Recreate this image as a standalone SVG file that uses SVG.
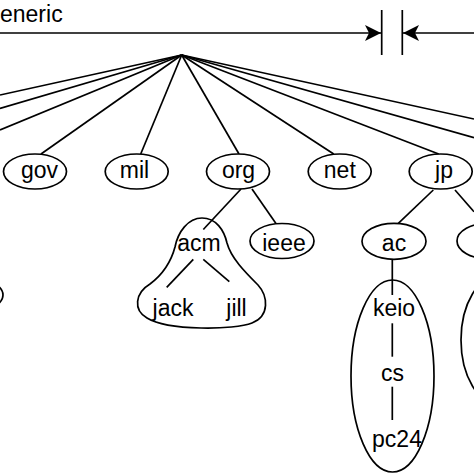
<svg xmlns="http://www.w3.org/2000/svg" width="474" height="474" viewBox="0 0 474 474">
<style>
.n{fill:none;stroke:#000;stroke-width:1.7}
.e{fill:#fff;stroke:#000;stroke-width:1.7}
.c line{stroke:#000;stroke-width:1.7}
text{font-family:"Liberation Sans",Arial,sans-serif;font-size:23px;fill:#000;text-anchor:middle}
</style>
<defs>
<marker id="ah" viewBox="0 0 16 16" refX="16" refY="8" markerWidth="16" markerHeight="16" markerUnits="userSpaceOnUse" orient="auto">
<path d="M0,0 L16,8 L0,16 L4,8 Z" fill="#000"/>
</marker>
</defs>
<rect width="474" height="474" fill="#fff"/>
<g id="scope">
<text x="0" y="22" style="text-anchor:start">eneric</text>
<line x1="0" y1="33" x2="381" y2="33" stroke="#000" stroke-width="1.7" marker-end="url(#ah)"/>
<line x1="474" y1="33" x2="403" y2="33" stroke="#000" stroke-width="1.7" marker-end="url(#ah)"/>
<line x1="381.7" y1="10" x2="381.7" y2="55" stroke="#000" stroke-width="1.7"/>
<line x1="402.3" y1="10" x2="402.3" y2="55" stroke="#000" stroke-width="1.7"/>
</g>
<g id="connectors" class="c">
<line x1="181.7" y1="55" x2="0" y2="95"/>
<line x1="181.7" y1="55" x2="0" y2="108.5"/>
<line x1="181.7" y1="55" x2="0" y2="130"/>
<line x1="181.7" y1="55" x2="41" y2="154"/>
<line x1="181.7" y1="55" x2="140.7" y2="154"/>
<line x1="181.7" y1="55" x2="239" y2="154"/>
<line x1="181.7" y1="55" x2="333.7" y2="154"/>
<line x1="181.7" y1="55" x2="438.7" y2="154"/>
<line x1="181.7" y1="55" x2="474" y2="119"/>
<line x1="181.7" y1="55" x2="474" y2="137.7"/>
<line x1="241" y1="189" x2="203.3" y2="229.5"/>
<line x1="252" y1="189" x2="277" y2="225"/>
<line x1="193.3" y1="259.3" x2="166.7" y2="287.3"/>
<line x1="203.3" y1="259.3" x2="229.3" y2="281.7"/>
<line x1="433.3" y1="190" x2="398.3" y2="223.3"/>
<line x1="455" y1="190" x2="474" y2="211.7"/>
<line x1="392.3" y1="259.3" x2="392.3" y2="295"/>
<line x1="392.3" y1="323.3" x2="392.3" y2="356.7"/>
<line x1="392.3" y1="386.7" x2="392.3" y2="420"/>
</g>
<g id="left-partial"><ellipse class="e" cx="-30" cy="295" rx="33" ry="17"/></g>
<g id="gov"><ellipse class="e" cx="35" cy="171.5" rx="31.5" ry="17.5"/><text x="39.5" y="177.5">gov</text></g>
<g id="mil"><ellipse class="e" cx="136.7" cy="171.5" rx="31.5" ry="17.5"/><text x="134.5" y="177.5">mil</text></g>
<g id="org"><ellipse class="e" cx="238" cy="171.5" rx="31.5" ry="17.5"/><text x="238.5" y="177.5">org</text></g>
<g id="net"><ellipse class="e" cx="339.7" cy="171.5" rx="31.5" ry="17.5"/><text x="339.8" y="177.5">net</text></g>
<g id="jp"><ellipse class="e" cx="440.7" cy="171.5" rx="31.5" ry="17.5"/><text x="444" y="177.5">jp</text></g>
<g id="acm-zone">
<path class="n" d="M175,247 C178,232 188,218 202,218 C216,218 224,230 227,243 C231,258 245,272 258,285 C268,296 270,316 252,323 C235,330 168,331 147,318 C133,310 135,293 150,284 C162,275 171,262 175,247 Z"/>
<text x="199" y="250.5">acm</text>
<text x="173" y="315.5">jack</text>
<text x="236.5" y="315.5">jill</text>
</g>
<g id="ieee"><ellipse class="e" cx="282" cy="241" rx="32" ry="17.5"/><text x="284" y="250.5">ieee</text></g>
<g id="ac"><ellipse class="e" cx="394" cy="241.3" rx="32" ry="18"/><text x="394" y="250.5">ac</text></g>
<g id="right-partial"><ellipse class="e" cx="489" cy="241" rx="32" ry="18"/></g>
<g id="keio-zone">
<ellipse class="n" cx="392.5" cy="376" rx="41.5" ry="96"/>
<text x="394" y="315.5">keio</text>
<text x="392.5" y="380.5">cs</text>
<text x="397" y="446.5">pc24</text>
</g>
<g id="right-tall"><ellipse class="n" cx="500" cy="340" rx="39" ry="65"/></g>
</svg>
